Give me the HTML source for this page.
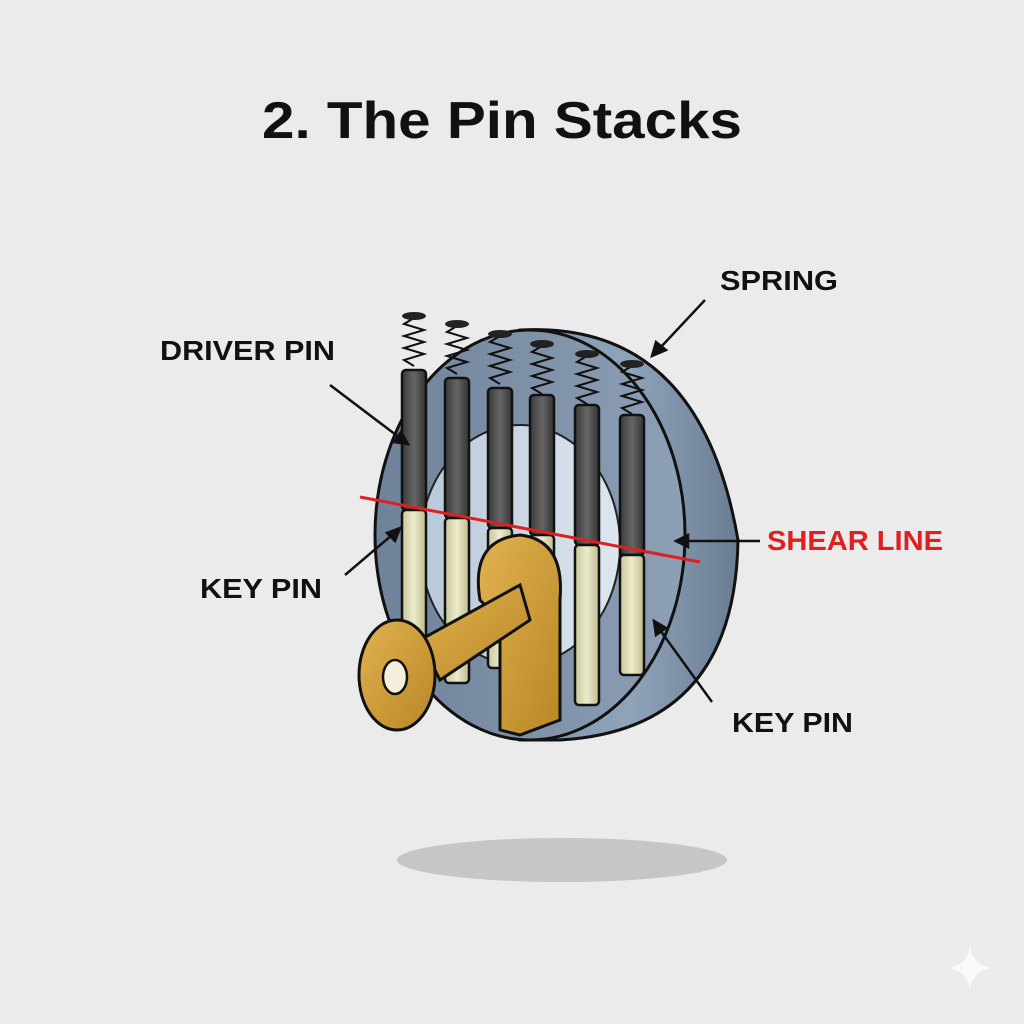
<!DOCTYPE html>
<html><head><meta charset="utf-8"><style>
html,body{margin:0;padding:0;background:#ebebeb;}
svg{display:block}
text{font-family:"Liberation Sans",sans-serif;font-weight:bold;}
</style></head><body>
<svg width="1024" height="1024" viewBox="0 0 1024 1024">
<defs>
<linearGradient id="side" x1="0" x2="1" y1="0" y2="0"><stop offset="0" stop-color="#7f93aa"/><stop offset="0.5" stop-color="#8fa3ba"/><stop offset="1" stop-color="#6a7d92"/></linearGradient>
<linearGradient id="front" x1="0" x2="1"><stop offset="0" stop-color="#6f8299"/><stop offset="1" stop-color="#8da0b6"/></linearGradient>
<linearGradient id="inner" x1="0" x2="1"><stop offset="0" stop-color="#b8c8d8"/><stop offset="1" stop-color="#dce6ee"/></linearGradient>
<linearGradient id="gold" x1="0" x2="1" y1="0" y2="1"><stop offset="0" stop-color="#e3b350"/><stop offset="1" stop-color="#b88626"/></linearGradient>
<linearGradient id="drv" x1="0" x2="1"><stop offset="0" stop-color="#3a3a3a"/><stop offset="0.5" stop-color="#666"/><stop offset="1" stop-color="#333"/></linearGradient>
<linearGradient id="kp" x1="0" x2="1"><stop offset="0" stop-color="#c9c79a"/><stop offset="0.5" stop-color="#ecebcb"/><stop offset="1" stop-color="#bdbb8e"/></linearGradient>
</defs>
<rect width="1024" height="1024" fill="#ebebeb"/>
<text x="262" y="138" font-size="52" textLength="480" lengthAdjust="spacingAndGlyphs" fill="#111">2. The Pin Stacks</text>
<ellipse cx="562" cy="860" rx="165" ry="22" fill="#c6c6c6"/>
<path d="M520 330 Q700 320 738 540 Q735 730 560 740 L520 740 Z" fill="url(#side)" stroke="#111" stroke-width="3"/>
<ellipse cx="530" cy="535" rx="155" ry="205" fill="url(#front)" stroke="#111" stroke-width="3"/>
<ellipse cx="520" cy="545" rx="100" ry="120" fill="url(#inner)" stroke="#222" stroke-width="2"/>
<g stroke="#111" stroke-width="2.5">
<rect x="402" y="370" width="24" height="140" rx="4" fill="url(#drv)"/>
<rect x="402" y="510" width="24" height="160" rx="4" fill="url(#kp)"/>
<rect x="445" y="378" width="24" height="140" rx="4" fill="url(#drv)"/>
<rect x="445" y="518" width="24" height="165" rx="4" fill="url(#kp)"/>
<rect x="488" y="388" width="24" height="140" rx="4" fill="url(#drv)"/>
<rect x="488" y="528" width="24" height="140" rx="4" fill="url(#kp)"/>
<rect x="530" y="395" width="24" height="140" rx="4" fill="url(#drv)"/>
<rect x="530" y="535" width="24" height="160" rx="4" fill="url(#kp)"/>
<rect x="575" y="405" width="24" height="140" rx="4" fill="url(#drv)"/>
<rect x="575" y="545" width="24" height="160" rx="4" fill="url(#kp)"/>
<rect x="620" y="415" width="24" height="140" rx="4" fill="url(#drv)"/>
<rect x="620" y="555" width="24" height="120" rx="4" fill="url(#kp)"/>
</g>
<g fill="none" stroke="#111" stroke-width="2">
<path d="M414 318 l-10 6 l20 6 l-20 6 l20 6 l-20 6 l20 6 l-20 6 l10 6"/>
<path d="M457 326 l-10 6 l20 6 l-20 6 l20 6 l-20 6 l20 6 l-20 6 l10 6"/>
<path d="M500 336 l-10 6 l20 6 l-20 6 l20 6 l-20 6 l20 6 l-20 6 l10 6"/>
<path d="M542 346 l-10 6 l20 6 l-20 6 l20 6 l-20 6 l20 6 l-20 6 l10 6"/>
<path d="M587 356 l-10 6 l20 6 l-20 6 l20 6 l-20 6 l20 6 l-20 6 l10 6"/>
<path d="M632 366 l-10 6 l20 6 l-20 6 l20 6 l-20 6 l20 6 l-20 6 l10 6"/>
</g>
<g fill="#222"><ellipse cx="414" cy="316" rx="12" ry="4"/><ellipse cx="457" cy="324" rx="12" ry="4"/><ellipse cx="500" cy="334" rx="12" ry="4"/><ellipse cx="542" cy="344" rx="12" ry="4"/><ellipse cx="587" cy="354" rx="12" ry="4"/><ellipse cx="632" cy="364" rx="12" ry="4"/></g>
<path d="M480 600 Q470 540 520 535 Q565 540 560 600 L560 720 L520 735 L500 730 L500 620 Z" fill="url(#gold)" stroke="#111" stroke-width="3"/>
<path d="M420 640 L520 585 L530 620 L500 640 L470 660 L440 680 Z" fill="url(#gold)" stroke="#111" stroke-width="3"/>
<ellipse cx="397" cy="675" rx="38" ry="55" fill="url(#gold)" stroke="#111" stroke-width="3"/>
<ellipse cx="395" cy="677" rx="12" ry="17" fill="#f5f0dc" stroke="#111" stroke-width="2.5"/>
<line x1="360" y1="497" x2="700" y2="562" stroke="#e02020" stroke-width="3"/>
<g stroke="#111" stroke-width="2.5" fill="#111">
<line x1="705" y1="300" x2="660" y2="348"/><polygon points="652,356 656,342 666,350"/>
<line x1="330" y1="385" x2="400" y2="438"/><polygon points="408,444 394,442 401,432"/>
<line x1="760" y1="541" x2="685" y2="541"/><polygon points="676,541 688,535 688,547"/>
<line x1="345" y1="575" x2="392" y2="535"/><polygon points="400,528 395,541 387,533"/>
<line x1="712" y1="702" x2="660" y2="630"/><polygon points="654,621 666,628 656,635"/>
</g>
<text x="720" y="290" font-size="28" textLength="118" lengthAdjust="spacingAndGlyphs" fill="#111">SPRING</text>
<text x="160" y="360" font-size="28" textLength="175" lengthAdjust="spacingAndGlyphs" fill="#111">DRIVER PIN</text>
<text x="767" y="550" font-size="28" textLength="176" lengthAdjust="spacingAndGlyphs" fill="#e02020">SHEAR LINE</text>
<text x="200" y="598" font-size="28" textLength="122" lengthAdjust="spacingAndGlyphs" fill="#111">KEY PIN</text>
<text x="732" y="732" font-size="28" textLength="121" lengthAdjust="spacingAndGlyphs" fill="#111">KEY PIN</text>
<path d="M970 945 Q972 965 992 968 Q972 971 970 990 Q968 971 948 968 Q968 965 970 945Z" fill="#fafafa"/>
</svg>
</body></html>
